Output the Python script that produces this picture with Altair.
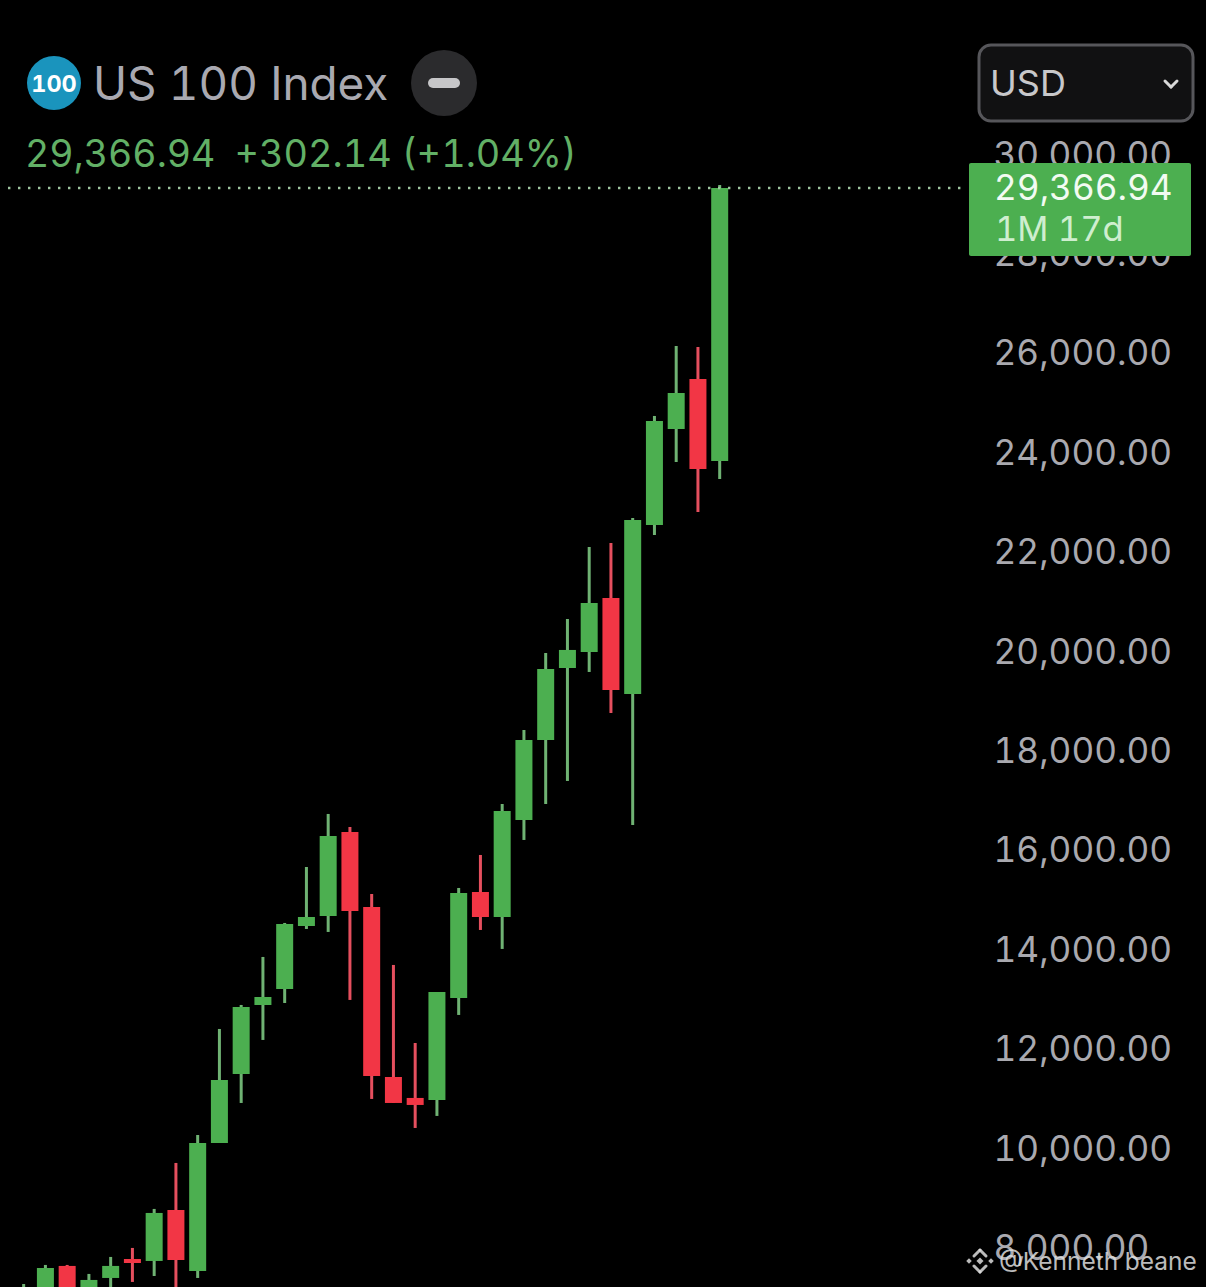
import altair as alt
import pandas as pd

periods = list(range(33))
opens = [6893, 7094, 7678, 7094, 7436, 7818, 7778, 8804, 7577, 10153, 11541, 12929, 13251, 14518, 14720, 16410,
         14901, 11480, 11058, 11018, 13070, 15202, 14699, 16651, 18261, 19709, 20031, 21118, 19186, 22586, 24518, 25524, 23874]
closes = [7235, 7637, 6993, 7396, 7678, 7738, 8744, 7798, 10153, 11420, 12889, 13090, 14559, 14699, 16329, 14820,
          11500, 10957, 10917, 13190, 15182, 14699, 16832, 18261, 19689, 20072, 21017, 19267, 22687, 24679, 25242, 23713, 29366.94]
highs = [7315, 7698, 7698, 7517, 7859, 8040, 8825, 9750, 10313, 12446, 12929, 13895, 14579, 15705, 16772, 16510,
         15162, 13734, 12164, 13190, 15283, 15947, 16973, 18462, 20011, 20695, 22144, 22224, 22727, 24780, 26188, 26168, 29427]
lows = [6792, 6993, 6893, 6993, 7195, 7356, 7476, 7094, 7436, 10153, 10957, 12225, 12969, 14458, 14398, 13030,
        11038, 10957, 10454, 10696, 12728, 14438, 14056, 16249, 16973, 17436, 19629, 18804, 16550, 22385, 23854, 22848, 23512]
tick_values = [8000, 10000, 12000, 14000, 16000, 18000, 20000, 22000, 24000, 26000, 28000, 30000]

GREEN = "#4caf50"
RED = "#f23645"
FONT = "Inter"

df = pd.DataFrame({"i": periods, "open": opens, "close": closes, "high": highs, "low": lows})
df["dir"] = ["up" if c >= o else "down" for o, c in zip(opens, closes)]
df["top"] = df[["open", "close"]].max(axis=1)
df["bottom"] = df[["open", "close"]].min(axis=1)

xs = alt.Scale(domain=[-0.72, 53.99], nice=False, zero=False, padding=0)
ys = alt.Scale(domain=[7254.2, 32988.6], nice=False, zero=False)

wicks = alt.Chart(df).mark_rule(strokeWidth=3, clip=True).encode(
    x=alt.X("i:Q", scale=xs, axis=None),
    y=alt.Y("low:Q", scale=ys, axis=alt.Axis(
        orient="right", offset=-205, values=tick_values, format=",.2f", title=None,
        domain=False, ticks=False, grid=False, labelFont=FONT, labelFontSize=35.2,
        labelColor="#a9a9af", labelAlign="left", labelBaseline="middle",
        labelPadding=0, labelOffset=-1.5, labelOverlap=False, labelFlush=False, labelBound=False)),
    y2="high:Q",
    color=alt.Color("dir:N", scale=alt.Scale(domain=["up", "down"], range=["#6fb273", "#e54f5e"]), legend=None),
)
bodies = alt.Chart(df).mark_bar(size=17, clip=True).encode(
    x=alt.X("i:Q", scale=xs, axis=None),
    y=alt.Y("bottom:Q", scale=ys),
    y2="top:Q",
    fill=alt.Fill("dir:N", scale=alt.Scale(domain=["up", "down"], range=[GREEN, RED]), legend=None),
)

one = pd.DataFrame({"a": [0]})
def X(v): return alt.value(v - 8)
def Y(v): return alt.value(v - 8)

def text(s, x, y, size, color, align="left", weight="normal", opacity=1):
    return alt.Chart(one).mark_text(text=s, font=FONT, fontSize=size, color=color, align=align, opacity=opacity,
                                    baseline="middle", fontWeight=weight).encode(x=X(x), y=Y(y))
def rect(x0, x1, y0, y1, fill, radius=0, stroke=None, sw=0):
    kw = dict(fill=fill, cornerRadius=radius)
    if stroke:
        kw.update(stroke=stroke, strokeWidth=sw)
    return alt.Chart(one).mark_rect(**kw).encode(x=X(x0), x2=X(x1), y=Y(y0), y2=Y(y1))
def seg(x0, y0, x1, y1, color, sw, dash=None, cap="round", opacity=1):
    kw = dict(color=color, strokeWidth=sw, strokeCap=cap, opacity=opacity)
    if dash:
        kw["strokeDash"] = dash
    return alt.Chart(one).mark_rule(**kw).encode(x=X(x0), x2=X(x1), y=Y(y0), y2=Y(y1))
def dot(x, y, size, color, shape="circle", opacity=1):
    return alt.Chart(one).mark_point(filled=True, shape=shape, size=size, color=color, opacity=opacity).encode(x=X(x), y=Y(y))

WM = "#dcdcdc"
layers = [
    wicks, bodies,
    seg(8, 188, 965, 188, "#9fc5a1", 2.4, dash=[2.4, 7.6], cap="butt"),
    # header
    dot(54, 83, 2916, "#1a94bd"),
    text("100", 54, 85, 23.5, "#ffffff", align="center", weight="bold"),
    text("US 100 Index", 93, 86, 45.8, "#a9a9b1"),
    dot(444, 83, 4356, "#2b2b2d"),
    seg(433, 83, 455, 83, "#c6c6c8", 10),
    text("29,366.94", 25, 156, 37.5, "#62b066"),
    text("+302.14 (+1.04%)", 234.5, 156, 37.8, "#62b066"),
    # currency box
    rect(979, 1193, 45, 121, "#111112", radius=12, stroke="#56565a", sw=3),
    text("USD", 990, 85, 36, "#c8c8ca"),
    seg(1165, 81, 1171, 87, "#d8d8d8", 3),
    seg(1171, 87, 1177, 81, "#d8d8d8", 3),
    # price tag
    rect(969, 1191, 163, 256, GREEN, radius=2),
    text("29,366.94", 994, 189, 35.2, "#f2fbf2"),
    text("1M 17d", 995, 231, 34.5, "#cfeecf"),
    # watermark
    seg(974, 1256, 980, 1250, WM, 3, opacity=0.85),
    seg(980, 1250, 986, 1256, WM, 3, opacity=0.85),
    seg(974, 1266, 980, 1272, WM, 3, opacity=0.85),
    seg(980, 1272, 986, 1266, WM, 3, opacity=0.85),
    dot(969, 1261, 30, WM, shape="diamond", opacity=0.85),
    dot(991, 1261, 30, WM, shape="diamond", opacity=0.85),
    dot(980, 1261, 50, WM, shape="diamond", opacity=0.85),
    text("@Kenneth beane", 999, 1263, 24.5, WM, opacity=0.85),
]

chart = alt.layer(*layers).properties(
    width=1190, height=1279, background="#000000", padding=0,
    autosize=alt.AutoSizeParams(type="none"),
).configure_view(stroke=None)

chart.save("out.html", embed_options={"renderer": "svg", "actions": False,
                                      "defaultStyle": "html,body{background:#000} svg text{font-variant-numeric:tabular-nums}"})
